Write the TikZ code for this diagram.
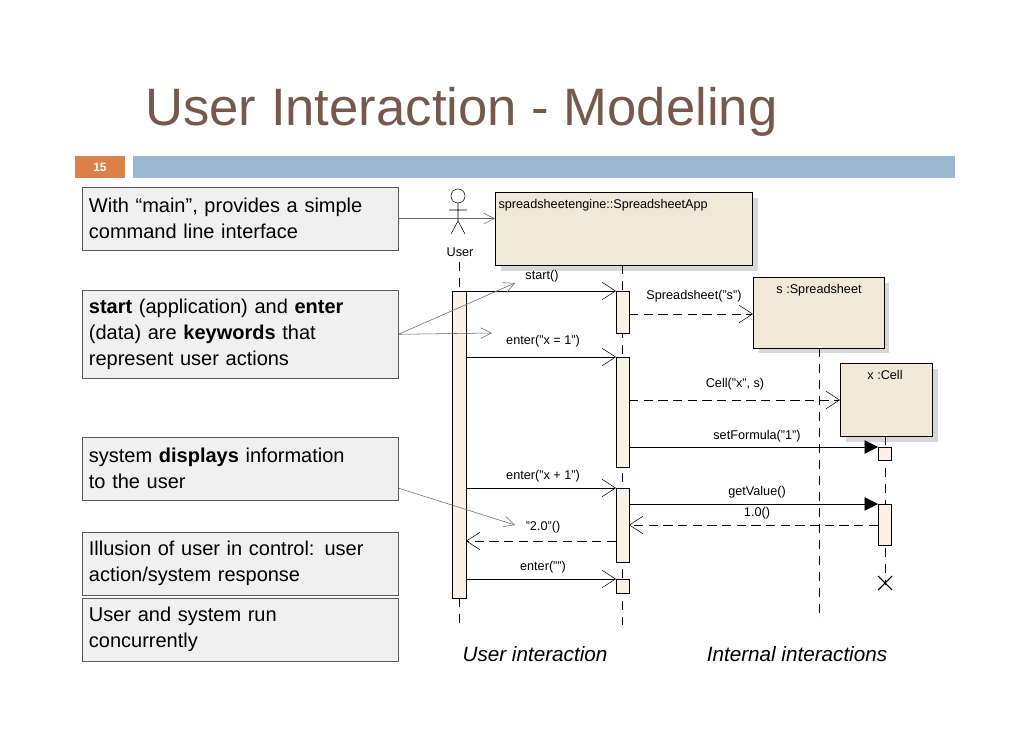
\documentclass[tikz,border=0pt]{standalone}
\usepackage{fontspec}
\setmainfont{Liberation Sans}
\usetikzlibrary{arrows.meta,shadows}
\definecolor{titlebrown}{HTML}{76594C}
\definecolor{barblue}{HTML}{9BB7D2}
\definecolor{numorange}{HTML}{DA8048}
\definecolor{boxgray}{HTML}{F0F0F0}
\definecolor{lifebg}{HTML}{FBF1E6}
\definecolor{objbg}{HTML}{F2E8D8}
\tikzset{
  callout/.style={draw=gray!70!black,fill=boxgray,text width=227pt,anchor=north west,
    align=left,inner sep=5pt,font=\fontsize{15}{19.5}\selectfont},
  obj/.style={draw,fill=objbg,anchor=north west,drop shadow={shadow xshift=4pt,shadow yshift=-4pt,fill=gray!60}},
  act/.style={draw,fill=lifebg},
  life/.style={dash pattern=on 7pt off 5pt},
  msg/.style={-{Straight Barb[length=10pt,width=13pt]}},
  call/.style={-{Triangle[length=10pt,width=10pt]}},
  ret/.style={dash pattern=on 7pt off 4pt,-{Straight Barb[length=10pt,width=13pt]}},
  note/.style={draw=gray!80!black,-{Straight Barb[length=8pt,width=8pt]}},
  lbl/.style={font=\fontsize{9.5}{11}\selectfont,inner sep=1pt}
}
\begin{document}
\begin{tikzpicture}[x=0.75pt,y=-0.75pt]
\useasboundingbox (0,0) rectangle (1030,728);
% header
\node[anchor=base west,text=titlebrown,font=\fontsize{39.5}{46}\selectfont,inner sep=0] (title) at (145,125) {User Interaction - Modeling};
\fill[numorange] (75,156) rectangle (125,178);
\node[text=white,font=\bfseries\fontsize{9}{10}\selectfont] (num) at (100,167) {15};
\fill[barblue] (133,156) rectangle (955,178);
% callouts
\node[callout,minimum height=47pt] (c1) at (82,187) {With “main”, provides a simple\\command line interface};
\node[callout,minimum height=66pt] (c2) at (82,290) {\textbf{start} (application) and \textbf{enter}\\(data) are \textbf{keywords} that\\represent user actions};
\node[callout,minimum height=47pt] (c3) at (82,437) {system \textbf{displays} information\\to the user};
\node[callout,minimum height=47pt] (c4) at (82,532) {Illusion of user in control: user\\action/system response};
\node[callout,minimum height=47pt] (c5) at (82,598) {User and system run\\concurrently};
% actor
\draw (458,196) circle (7);
\draw (458,203) -- (458,221) (449,210) -- (467,210) (458,221) -- (451,234) (458,221) -- (465,234);
\node[lbl] (user) at (460,252) {User};
% objects
\node[obj,minimum width=193pt,minimum height=55pt] (app) at (495,192) {};
\node[lbl,anchor=north west] (applbl) at (497,198) {spreadsheetengine::SpreadsheetApp};
\node[obj,minimum width=98pt,minimum height=53pt] (ss) at (753,277) {};
\node[lbl,anchor=north] (sslbl) at (819,283) {s :Spreadsheet};
\node[obj,minimum width=69pt,minimum height=55pt] (cell) at (840,363) {};
\node[lbl,anchor=north] (celllbl) at (885,369) {x :Cell};
% lifelines
\draw[life] (459,262) -- (459,625);
\draw[life] (622,265) -- (622,625);
\draw[life] (819,348) -- (819,620);
\draw[life] (885,436) -- (885,585);
% activations
\draw[act] (452,291) rectangle (466,598);
\draw[act] (616,291) rectangle (629,333);
\draw[act] (616,357) rectangle (629,467);
\draw[act] (616,488) rectangle (629,562);
\draw[act] (616,579) rectangle (629,593);
\draw[act] (878,447) rectangle (891,460);
\draw[act] (878,504) rectangle (891,545);
\draw[thick] (878,576) -- (892,590) (878,590) -- (892,576);
% message ends
\foreach \n/\x/\y in {u1/466/291,a1/616/291,a2/629/314,s2/753/314,u3/466/357,a3/616/357,
  a4/629/400,c4/840/400,a5/629/447,x5/878/447,u6/466/488,a6/616/488,a7/629/504,x7/878/504,
  x8/878/525,a8/629/525,a9/616/541,u9/466/541,u10/466/579,a10/616/579}
  \coordinate (\n) at (\x,\y);
\draw[msg] (u1) -- (a1);
\draw[ret] (a2) -- (s2);
\draw[msg] (u3) -- (a3);
\draw[ret] (a4) -- (c4);
\draw[call] (a5) -- (x5);
\draw[msg] (u6) -- (a6);
\draw[call] (a7) -- (x7);
\draw[ret] (x8) -- (a8);
\draw[ret] (a9) -- (u9);
\draw[msg] (u10) -- (a10);
% message labels
\node[lbl] (m1) at (542,276) {start()};
\node[lbl] (m2) at (694,296) {Spreadsheet("s")};
\node[lbl] (m3) at (543,341) {enter("x = 1")};
\node[lbl] (m4) at (735,384) {Cell("x", s)};
\node[lbl] (m5) at (757,436) {setFormula("1")};
\node[lbl] (m6) at (543,476) {enter("x + 1")};
\node[lbl] (m7) at (757,492) {getValue()};
\node[lbl] (m8) at (757,513) {1.0()};
\node[lbl] (m9) at (543,527) {"2.0"()};
\node[lbl] (m10) at (543,567) {enter("")};
% note arrows
\draw[note] (c1.east) -- (app.west |- c1.east);
\draw[note] (c2.east) -- (515,283);
\draw[note] (c2.east) -- (492,333);
\draw[note] (398,488) -- (515,525);
% bottom captions
\node[font=\itshape\fontsize{15.5}{18}\selectfont] (uint) at (535,654) {User interaction};
\node[font=\itshape\fontsize{15.5}{18}\selectfont] (iint) at (797,654) {Internal interactions};
\end{tikzpicture}
\end{document}
